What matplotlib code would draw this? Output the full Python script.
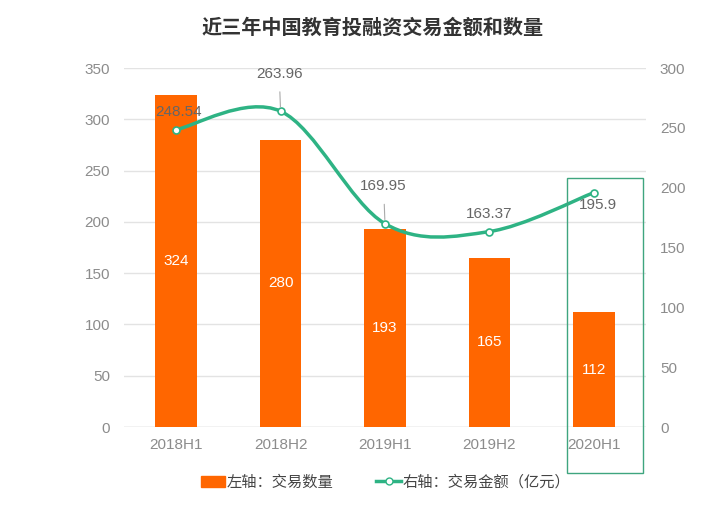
import numpy as np
import matplotlib.pyplot as plt
from matplotlib.path import Path
from matplotlib.patches import PathPatch, Rectangle
from matplotlib.lines import Line2D

plt.rcParams['font.family'] = ['Liberation Sans', 'Noto Sans CJK SC', 'DejaVu Sans']

periods = ['2018H1', '2018H2', '2019H1', '2019H2', '2020H1']
deal_count = [324, 280, 193, 165, 112]
deal_amount = [248.54, 263.96, 169.95, 163.37, 195.9]

orange = '#ff6600'
green = '#2eb384'
grey_txt = '#8c8c8c'


def smooth_path(xs, ys, t=0.5):
    # catmull-rom style bezier through the points (like excel's smoothed line)
    xs = np.asarray(xs, float)
    ys = np.asarray(ys, float)
    n = len(xs)
    verts = [(xs[0], ys[0])]
    codes = [Path.MOVETO]
    for i in range(n - 1):
        p0 = np.array([xs[max(i - 1, 0)], ys[max(i - 1, 0)]])
        p1 = np.array([xs[i], ys[i]])
        p2 = np.array([xs[i + 1], ys[i + 1]])
        p3 = np.array([xs[min(i + 2, n - 1)], ys[min(i + 2, n - 1)]])
        c1 = p1 + (p2 - p0) * t / 3
        c2 = p2 - (p3 - p1) * t / 3
        verts += [tuple(c1), tuple(c2), tuple(p2)]
        codes += [Path.CURVE4] * 3
    return Path(verts, codes)


fig = plt.figure(figsize=(7.06, 5.12), dpi=100)
ax = fig.add_axes([0.1756, 0.166, 0.7394, 0.701])
ax2 = ax.twinx()

x = np.arange(len(periods))
ax.bar(x, deal_count, width=0.4, color=orange, zorder=2)
for xi, v in zip(x, deal_count):
    ax.text(xi, v / 2, str(v), ha='center', va='center', color='white', fontsize=11)

ax.set_xlim(-0.5, 4.5)
ax.set_ylim(0, 350)
ax.set_yticks(range(0, 351, 50))
ax.set_xticks(x)
ax.set_xticklabels(periods)
ax.grid(axis='y', color='#e3e3e3', linewidth=1, zorder=0)
ax.set_axisbelow(True)

ax2.set_ylim(0, 300)
ax2.set_yticks(range(0, 301, 50))
ax2.add_patch(PathPatch(smooth_path(x, deal_amount), facecolor='none',
                        edgecolor=green, linewidth=2.5, zorder=3))
ax2.plot(x, deal_amount, linestyle='none', marker='o', markersize=5,
         markerfacecolor='white', markeredgecolor=green, markeredgewidth=1.2, zorder=4)

# value labels for the line
offsets = [(2, 13, False), (-1, 27, True), (-1, 27, True), (0, 13, False), (3, -9, False)]
for xi, v, (dx, dy, lead) in zip(x, deal_amount, offsets):
    ax2.annotate(f'{v:.2f}'.rstrip('0').rstrip('.'), xy=(xi, v), xytext=(dx, dy),
                 textcoords='offset points', ha='center', va='center',
                 color='#666666', fontsize=11,
                 arrowprops=dict(arrowstyle='-', color='#aaaaaa', lw=0.8,
                                 shrinkA=6, shrinkB=3) if lead else None, zorder=5)

for a in (ax, ax2):
    for s in a.spines.values():
        s.set_visible(False)
    a.tick_params(length=0, colors=grey_txt, labelsize=11)
ax.tick_params(axis='x', pad=8)
ax.tick_params(axis='y', pad=10)
ax2.tick_params(axis='y', pad=10)
ax.axhline(0, color='#d9d9d9', linewidth=1, zorder=1)

# highlight box round the last period
fig.patches.append(Rectangle((567 / 706, 1 - 473 / 512), 76 / 706, 295 / 512,
                             transform=fig.transFigure, fill=False,
                             edgecolor='#3fa57f', linewidth=1))

fig.text(0.527, 0.945, '近三年中国教育投融资交易金额和数量', ha='center', va='center',
         fontsize=14.5, fontweight='bold', color='#333333')

handles = [Rectangle((0, 0), 1, 1, color=orange),
           Line2D([], [], color=green, linewidth=2.5, marker='o', markersize=5,
                  markerfacecolor='white', markeredgecolor=green)]
fig.legend(handles, ['左轴：交易数量', '右轴：交易金额（亿元）'], loc='center',
           bbox_to_anchor=(0.546, 0.058), ncol=2, frameon=False, fontsize=11,
           labelcolor='#444444', handlelength=1.6, handletextpad=0.1, columnspacing=2.8)

fig.savefig('out.png', dpi=100)
